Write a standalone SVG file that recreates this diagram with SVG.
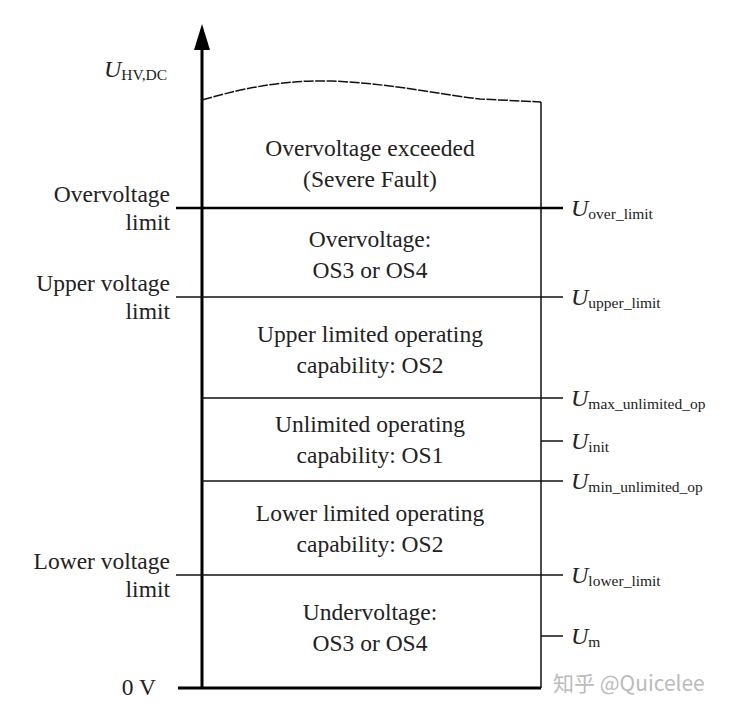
<svg xmlns="http://www.w3.org/2000/svg" width="731" height="713" viewBox="0 0 731 713">
<style>
.t{font-family:"Liberation Serif",serif;font-size:23.5px;fill:#222;text-anchor:middle}
.l{font-family:"Liberation Serif",serif;font-size:23.5px;fill:#222;text-anchor:end}
.u{font-family:"Liberation Serif",serif;font-size:24px;fill:#222;font-style:italic}
.s{font-size:15.5px;font-style:normal}
.ln{stroke:#111;stroke-width:1.5;fill:none}
.wm{font-family:"Noto Sans CJK SC","Liberation Sans",sans-serif;font-size:21px;fill:#bbb}
</style>
<rect width="731" height="713" fill="#fff"/>
<g id="connectors">
<line x1="202" y1="688" x2="202" y2="45" stroke="#000" stroke-width="3"/>
<polygon points="202,24 194,50 210,50" fill="#000"/>
<line x1="178" y1="688" x2="541" y2="688" stroke="#000" stroke-width="3"/>
<line x1="541" y1="102" x2="541" y2="688" class="ln"/>
<path d="M202,100 C250,86 290,80 330,81 C390,83 450,96 480,99 L541,102" class="ln" stroke-dasharray="10 1.5"/>
<line x1="176" y1="208" x2="563" y2="208" stroke="#000" stroke-width="2.5"/>
<line x1="176" y1="297" x2="563" y2="297" class="ln"/>
<line x1="202" y1="398" x2="563" y2="398" class="ln"/>
<line x1="541" y1="441" x2="563" y2="441" class="ln"/>
<line x1="202" y1="481" x2="563" y2="481" class="ln"/>
<line x1="176" y1="575" x2="563" y2="575" class="ln"/>
<line x1="541" y1="636" x2="563" y2="636" class="ln"/>
</g>
<g id="region-severe"><text class="t" x="370" y="156">Overvoltage exceeded</text><text class="t" x="370" y="187">(Severe Fault)</text></g>
<g id="region-ov"><text class="t" x="370" y="247">Overvoltage:</text><text class="t" x="370" y="278">OS3 or OS4</text></g>
<g id="region-upper"><text class="t" x="370" y="342">Upper limited operating</text><text class="t" x="370" y="373">capability: OS2</text></g>
<g id="region-unl"><text class="t" x="370" y="432">Unlimited operating</text><text class="t" x="370" y="463">capability: OS1</text></g>
<g id="region-lower"><text class="t" x="370" y="521">Lower limited operating</text><text class="t" x="370" y="552">capability: OS2</text></g>
<g id="region-under"><text class="t" x="370" y="620">Undervoltage:</text><text class="t" x="370" y="651">OS3 or OS4</text></g>
<g id="left-labels">
<text class="u" x="104" y="77">U<tspan class="s" dy="3">HV,DC</tspan></text>
<text class="l" x="170" y="202">Overvoltage</text><text class="l" x="170" y="230">limit</text>
<text class="l" x="170" y="291">Upper voltage</text><text class="l" x="170" y="319">limit</text>
<text class="l" x="170" y="569">Lower voltage</text><text class="l" x="170" y="597">limit</text>
<text class="l" x="156" y="695">0 V</text>
</g>
<g id="right-labels">
<text class="u" x="571" y="216">U<tspan class="s" dy="3">over_limit</tspan></text>
<text class="u" x="571" y="305">U<tspan class="s" dy="3">upper_limit</tspan></text>
<text class="u" x="571" y="406">U<tspan class="s" dy="3">max_unlimited_op</tspan></text>
<text class="u" x="571" y="449">U<tspan class="s" dy="3">init</tspan></text>
<text class="u" x="571" y="489">U<tspan class="s" dy="3">min_unlimited_op</tspan></text>
<text class="u" x="571" y="583">U<tspan class="s" dy="3">lower_limit</tspan></text>
<text class="u" x="571" y="644">U<tspan class="s" dy="3">m</tspan></text>
</g>
<text class="wm" x="553" y="691">知乎 @Quicelee</text>
</svg>
